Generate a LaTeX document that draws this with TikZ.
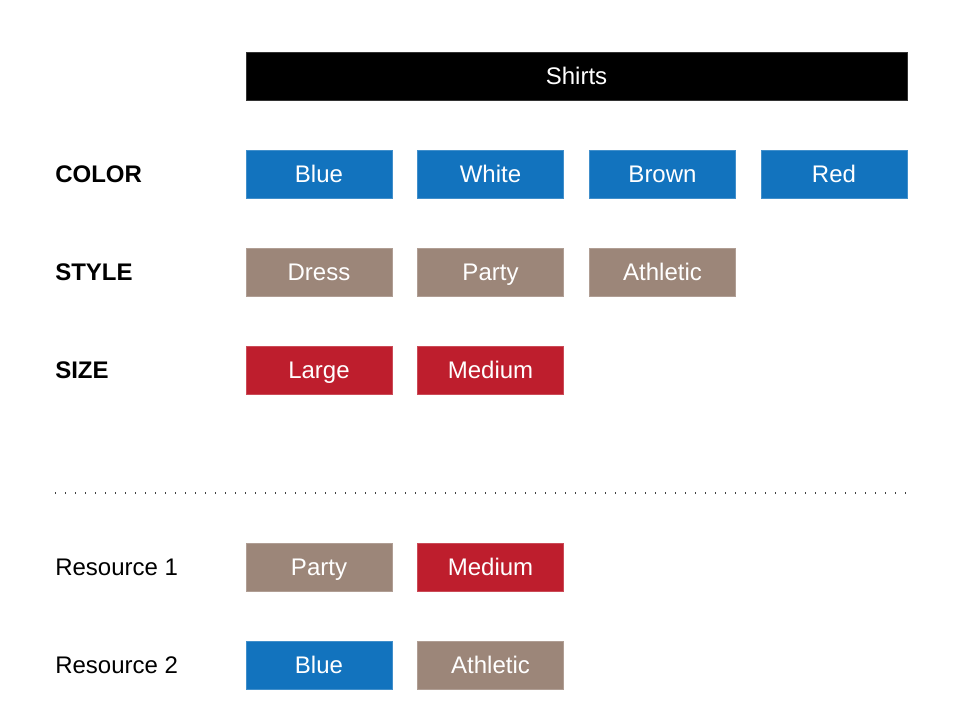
\documentclass[tikz,border=0pt]{standalone}
\usepackage{fontspec}
\setmainfont{Liberation Sans}
\definecolor{optblue}{HTML}{1273BE}
\definecolor{optbrown}{HTML}{9C8679}
\definecolor{optred}{HTML}{BE1E2D}
\tikzset{
    opt/.style={minimum width=109.5pt, minimum height=36pt, inner sep=0pt,
        text height=13pt, text depth=0pt,
        text=white, font=\fontsize{18}{21}\selectfont, draw=#1!80!white, line width=0.5pt, fill=#1},
    rowlabel/.style={anchor=west, inner sep=0pt, text height=13pt, text depth=0pt,
        font=\fontsize{18}{21}\selectfont\bfseries},
    reslabel/.style={anchor=west, inner sep=0pt, text height=13pt, text depth=0pt,
        font=\fontsize{18}{21}\selectfont},
}
\begin{document}
\begin{tikzpicture}[x=0.75pt, y=-0.75pt]
    \useasboundingbox (0,0) rectangle (968,703);

    % 标题
    \node[opt=black, minimum width=495.75pt] (shirts) at (576.5,76) {Shirts};

    % 颜色
    \node[rowlabel] (color) at (55,174) {COLOR};
    \node[opt=optblue] (blue) at (319,174) {Blue};
    \node[opt=optblue] (white) at (490.5,174) {White};
    \node[opt=optblue] (brown) at (662.5,174) {Brown};
    \node[opt=optblue] (red) at (834,174) {Red};

    % 款式
    \node[rowlabel] (style) at (55,272) {STYLE};
    \node[opt=optbrown] (dress) at (319,272) {Dress};
    \node[opt=optbrown] (party) at (490.5,272) {Party};
    \node[opt=optbrown] (athletic) at (662.5,272) {Athletic};

    % 尺码
    \node[rowlabel] (size) at (55,370) {SIZE};
    \node[opt=optred] (large) at (319,370) {Large};
    \node[opt=optred] (medium) at (490.5,370) {Medium};

    % 分隔虚线
    \coordinate (sepl) at (55,493);
    \coordinate (sepr) at (907,493);
    \draw[gray!50!black, line width=1.1pt, dash pattern=on 1.1pt off 6.4pt] (sepl) -- (sepr);

    % 资源
    \node[reslabel] (res1) at (55,567) {Resource 1};
    \node[opt=optbrown] (r1party) at (319,567) {Party};
    \node[opt=optred] (r1medium) at (490.5,567) {Medium};

    \node[reslabel] (res2) at (55,665) {Resource 2};
    \node[opt=optblue] (r2blue) at (319,665) {Blue};
    \node[opt=optbrown] (r2athletic) at (490.5,665) {Athletic};
\end{tikzpicture}
\end{document}
